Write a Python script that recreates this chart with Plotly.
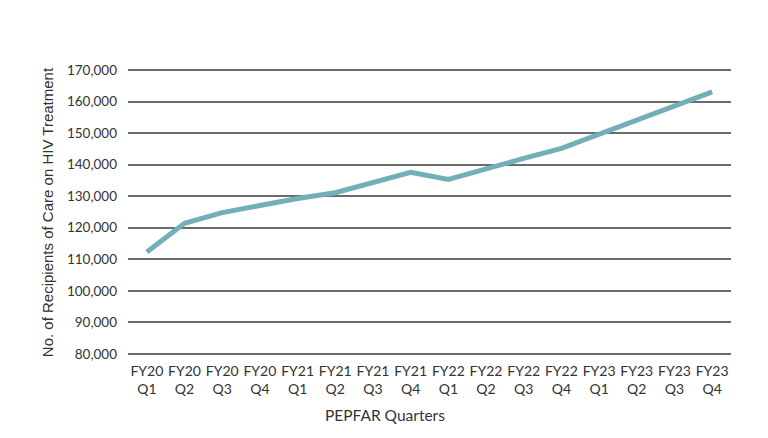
import plotly.graph_objs as go

quarters = [
    "FY20<br>Q1", "FY20<br>Q2", "FY20<br>Q3", "FY20<br>Q4",
    "FY21<br>Q1", "FY21<br>Q2", "FY21<br>Q3", "FY21<br>Q4",
    "FY22<br>Q1", "FY22<br>Q2", "FY22<br>Q3", "FY22<br>Q4",
    "FY23<br>Q1", "FY23<br>Q2", "FY23<br>Q3", "FY23<br>Q4",
]
recipients = [
    112300, 121400, 124800, 127200,
    129300, 131100, 134200, 137600,
    135300, 138800, 142000, 145200,
    149700, 154200, 158600, 163100,
]
y_ticks = list(range(80000, 170001, 10000))

fig = go.Figure()

fig.add_trace(
    go.Scatter(
        x=quarters,
        y=recipients,
        mode="lines",
        line=dict(color="#72AFB6", width=5),
        showlegend=False,
    )
)

# axis titles as annotations so they sit where the original has them
fig.add_annotation(
    text="PEPFAR Quarters",
    xref="paper", yref="paper",
    x=0.426, y=-0.2,
    xanchor="center", yanchor="middle",
    showarrow=False,
    font=dict(family="Lato, sans-serif", size=15.5, color="#333333"),
)
fig.add_annotation(
    text="No. of Recipients of Care on HIV Treatment",
    xref="paper", yref="paper",
    x=-0.134, y=0.5,
    xanchor="center", yanchor="middle",
    textangle=-90,
    showarrow=False,
    font=dict(family="Liberation Sans, Arial, sans-serif", size=15, color="#333333"),
)

fig.update_layout(
    width=768,
    height=438,
    margin=dict(l=128, r=37, t=67, b=81),
    font=dict(family="Lato, Open Sans, sans-serif", size=13, color="#333333"),
    plot_bgcolor="white",
    paper_bgcolor="white",
    xaxis=dict(
        showgrid=False,
        showline=False,
        ticks="",
        tickfont=dict(size=14),
        range=[-0.5, 15.5],
        ticklabelstandoff=4,
    ),
    yaxis=dict(
        range=[79000, 171000],
        tickvals=y_ticks,
        tickformat=",",
        tickfont=dict(size=13.5),
        gridcolor="#6b6b6b",
        gridwidth=2,
        zeroline=False,
        ticks="",
        ticklabelstandoff=10,
    ),
)

fig.write_html(
    "out.html",
    config={"displayModeBar": False},
    post_script="document.body.style.margin='0';",
)
